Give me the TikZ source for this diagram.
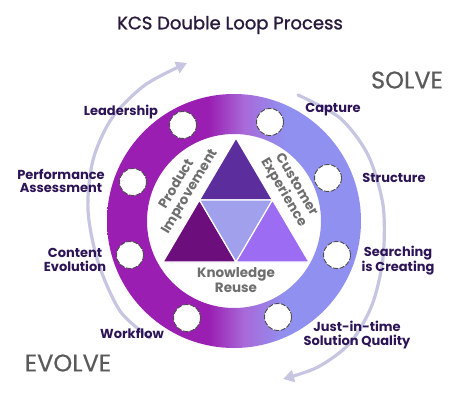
\documentclass[tikz,border=0pt]{standalone}
\usepackage{fontspec}
\setmainfont{Poppins}
\newfontfamily\titlefont{Poppins}[FakeBold=1.2]
\newfontfamily\bigfont{Poppins}[FakeBold=0.6]
\usetikzlibrary{arrows.meta}
\definecolor{ringP}{HTML}{9A1EB2}
\definecolor{ringM}{HTML}{A86AD8}
\definecolor{ringB}{HTML}{9090F0}
\definecolor{labelc}{HTML}{2C1456}
\definecolor{titlec}{HTML}{2A1A3E}
\definecolor{grayt}{HTML}{6E6E6E}
\definecolor{bigt}{HTML}{5A5A5A}
\definecolor{arcc}{HTML}{C6C6E2}
\definecolor{triTop}{HTML}{5C2D9C}
\definecolor{triLeft}{HTML}{6C0E7C}
\definecolor{triMid}{HTML}{A0A0EC}
\definecolor{triRight}{HTML}{9C6CF2}
\pgfdeclarehorizontalshading{ringshade}{100bp}{color(0bp)=(ringP); color(45bp)=(ringP); color(52bp)=(ringM); color(60bp)=(ringB); color(100bp)=(ringB)}
\tikzset{
  smallc/.style={circle, minimum size=27pt, inner sep=0pt, fill=white, draw=black!70, line width=0.9pt, dash pattern=on 5pt off 1.6pt},
  outlab/.style={align=center, text=labelc, font=\bfseries\fontsize{13}{13.8}\selectfont, inner sep=0pt},
  inlab/.style={align=center, text=grayt, font=\bfseries\fontsize{13.5}{15}\selectfont, inner sep=0pt},
  biglab/.style={text=bigt, font=\bigfont\fontsize{24}{26}\selectfont, inner sep=0pt},
  arcline/.style={draw=arcc, line width=3.2pt, line cap=round},
  tri/.style={draw=white, line width=1.2pt, line join=round}
}
\begin{document}
\begin{tikzpicture}[x=1pt, y=-1pt]
\useasboundingbox (0,0) rectangle (474,415);
\fill[white] (0,0) rectangle (474,415);

% outer arcs
\coordinate (la0) at (150,338);
\coordinate (la1) at (187,63);
\coordinate (ra0) at (298,95);
\coordinate (ra1) at (283,379);
\draw[arcline, -{Triangle[length=11pt,width=12pt]}] plot[smooth] coordinates {(la0) (120,311) (98,262) (88,210) (93,160) (112,118) (145,85) (la1)};
\draw[arcline, -{Triangle[length=11pt,width=12pt]}] plot[smooth] coordinates {(ra0) (340,118) (368,155) (383,205) (383,258) (372,305) (350,343) (318,367) (ra1)};

% ring
\coordinate (C) at (234,221);
\shade[shading=ringshade, even odd rule] (C) circle (127) (C) circle (87);

% triangles
\coordinate (A) at (236,138);
\coordinate (BL) at (163,262);
\coordinate (BR) at (309,262);
\coordinate (ML) at (199.5,200);
\coordinate (MR) at (272.5,200);
\coordinate (MB) at (236,262);
\filldraw[tri, fill=triTop] (A) -- (ML) -- (MR) -- cycle;
\filldraw[tri, fill=triLeft] (ML) -- (BL) -- (MB) -- cycle;
\filldraw[tri, fill=triMid] (ML) -- (MR) -- (MB) -- cycle;
\filldraw[tri, fill=triRight] (MR) -- (MB) -- (BR) -- cycle;

% inner labels
\node[inlab, rotate=59] (pi) at (183.5,188) {Product\\Improvement};
\node[inlab, rotate=-59] (ce) at (289.5,189) {Customer\\Experience};
\node[inlab] (kr) at (236,280) {Knowledge\\Reuse};

% small circles
\node[smallc] (c1) at (270,122) {};
\node[smallc] (c2) at (328,178) {};
\node[smallc] (c3) at (337,255) {};
\node[smallc] (c4) at (278,317) {};
\node[smallc] (c5) at (187,318) {};
\node[smallc] (c6) at (130,255) {};
\node[smallc] (c7) at (133,182) {};
\node[smallc] (c8) at (183,125) {};

% outer labels
\node[outlab] (lcap) at (333,110) {Capture};
\node[outlab] (lstr) at (394,178) {Structure};
\node[outlab] (lsea) at (398,261) {Searching\\is Creating};
\node[outlab] (ljit) at (357,335) {Just-in-time\\Solution Quality};
\node[outlab] (lwor) at (132,333) {Workflow};
\node[outlab] (lcon) at (75,260) {Content\\Evolution};
\node[outlab] (lper) at (61,181) {Performance\\Assessment};
\node[outlab] (llea) at (121,112) {Leadership};

% titles
\node[text=titlec, font=\titlefont\fontsize{18}{20}\selectfont, inner sep=0pt] (title) at (230,25) {KCS Double Loop Process};
\node[biglab] (solve) at (407,80) {SOLVE};
\node[biglab] (evolve) at (68,363) {EVOLVE};
\end{tikzpicture}
\end{document}
